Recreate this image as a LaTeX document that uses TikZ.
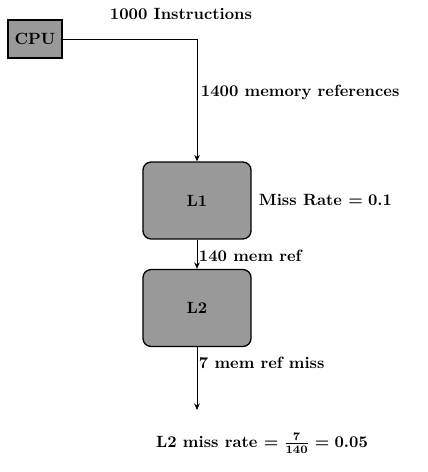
\documentclass[tikz,border=0pt]{standalone}
\usetikzlibrary{arrows.meta}
\begin{document}
\begin{tikzpicture}[x=0.6135pt,y=-0.6135pt,
  font=\bfseries\boldmath,
  box/.style={draw=black, thick, fill=black!40, inner sep=0pt},
  cache/.style={box, rounded corners=5pt, minimum width=66.3pt, minimum height=47.2pt},
  cpubox/.style={box, minimum width=33.1pt, minimum height=23.3pt},
  conn/.style={-{Stealth[length=4pt,width=3.5pt]}, semithick},
  lbl/.style={inner sep=1pt}]
\useasboundingbox (0,0) rectangle (428,472);
\node[cpubox] (cpu) at (35,39) {CPU};
\node[cache] (l1) at (197,200.5) {L1};
\node[cache] (l2) at (197,308) {L2};
\coordinate (out) at (197,410);
\draw[conn] (cpu.east) -| (l1.north);
\draw[conn] (l1.south) -- (l2.north);
\draw[conn] (l2.south) -- (out);
\node[lbl] (t1) at (181,14) {1000 Instructions};
\node[lbl, anchor=west] (t2) at (199,92) {1400 memory references};
\node[lbl, anchor=west] (t3) at (257,200) {Miss Rate $=0.1$};
\node[lbl, anchor=west] (t4) at (197,256) {140 mem ref};
\node[lbl, anchor=west] (t5) at (197,363) {7 mem ref miss};
\node[lbl] (t6) at (262,443) {L2 miss rate $=\frac{7}{140}=0.05$};
\end{tikzpicture}
\end{document}
